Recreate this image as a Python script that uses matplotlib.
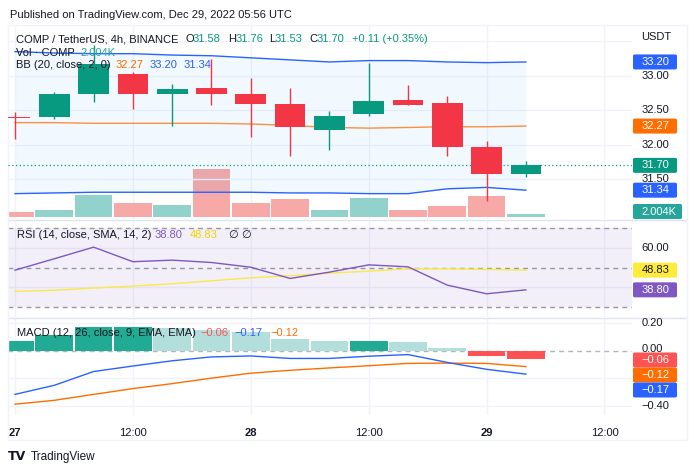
import matplotlib
matplotlib.use("Agg")
import matplotlib.pyplot as plt
from matplotlib.patches import FancyBboxPatch
import numpy as np

plt.rcParams['font.family'] = ['Liberation Sans', 'DejaVu Sans']

# ---------------- data ----------------
opens  = [32.40, 32.40, 32.73, 33.02, 32.74, 32.82, 32.74, 32.59, 32.22, 32.45, 32.65, 32.60, 31.96, 31.58]
highs  = [32.48, 32.76, 33.45, 33.06, 32.88, 33.24, 32.97, 32.82, 32.49, 33.19, 32.86, 32.71, 32.06, 31.76]
lows   = [32.08, 32.37, 32.62, 32.52, 32.27, 32.57, 32.11, 31.83, 31.92, 32.41, 32.57, 31.84, 31.18, 31.53]
closes = [32.38, 32.74, 33.17, 32.74, 32.81, 32.74, 32.59, 32.25, 32.42, 32.64, 32.58, 31.97, 31.58, 31.70]
volume_k = [2.9, 4.1, 12.4, 7.8, 6.8, 26.9, 8.3, 10.0, 4.4, 10.6, 3.9, 6.5, 12.2, 2.004]

bb_upper = [33.35, 33.33, 33.32, 33.32, 33.30, 33.29, 33.26, 33.23, 33.20, 33.22, 33.22, 33.20, 33.19, 33.20]
bb_basis = [32.32, 32.32, 32.31, 32.31, 32.31, 32.31, 32.30, 32.28, 32.25, 32.24, 32.25, 32.26, 32.26, 32.27]
bb_lower = [31.29, 31.30, 31.31, 31.31, 31.31, 31.31, 31.31, 31.30, 31.30, 31.29, 31.29, 31.36, 31.38, 31.34]

rsi     = [48.8, 54.6, 60.5, 53.1, 53.9, 52.7, 50.3, 44.6, 47.8, 51.5, 50.5, 41.2, 36.8, 38.80]
rsi_sma = [38.0, 38.6, 39.7, 40.7, 41.9, 43.4, 44.9, 46.0, 47.3, 48.3, 49.5, 49.5, 49.2, 48.83]

macd_hist   = [0.069, 0.117, 0.169, 0.172, 0.165, 0.152, 0.133, 0.088, 0.072, 0.074, 0.065, 0.022, -0.038, -0.06]
macd_line   = [-0.317, -0.251, -0.151, -0.111, -0.073, -0.045, -0.038, -0.056, -0.056, -0.040, -0.028, -0.085, -0.135, -0.17]
macd_signal = [-0.388, -0.360, -0.317, -0.275, -0.239, -0.199, -0.163, -0.142, -0.125, -0.109, -0.092, -0.090, -0.092, -0.115]

time_tick_pos = [0, 3, 6, 9, 12, 15]
time_tick_labels = ["27", "12:00", "28", "12:00", "29", "12:00"]
time_tick_bold = [True, False, True, False, True, False]

price_ticks = [33.00, 32.50, 32.00, 31.50]
rsi_ticks = [60.00]
macd_ticks = [0.20, 0.00, -0.40]

# ---------------- colors ----------------
UP = "#089981"
DN = "#f23645"
VOL_UP = "#92d2cc"
VOL_DN = "#f7a9a7"
BLUE = "#2962ff"
ORANGE = "#ff6d00"
PURPLE = "#7e57c2"
YELLOW = "#fbe84a"
GRID = "#f0f3fa"
BORDER = "#e0e3eb"
TXT = "#131722"

W_PX, H_PX = 696, 472
fig = plt.figure(figsize=(6.96, 4.72), dpi=100)
fig.patch.set_facecolor("white")

L_PX, R_PX = 8, 632
def rect(top, bottom):
    return [L_PX / W_PX, 1 - bottom / H_PX, (R_PX - L_PX) / W_PX, (bottom - top) / H_PX]

ax_vol = fig.add_axes(rect(25, 219))
ax = fig.add_axes(rect(25, 219), sharex=ax_vol)
ax_rsi = fig.add_axes(rect(220, 317), sharex=ax_vol)
ax_macd = fig.add_axes(rect(318, 415), sharex=ax_vol)

n = len(closes)
x = np.arange(n)
xlim = (-0.178, 15.70)

for a in (ax_vol, ax, ax_rsi, ax_macd):
    a.set_xlim(*xlim)
    for s in a.spines.values():
        s.set_visible(False)
    a.tick_params(left=False, right=False, bottom=False, top=False,
                  labelleft=False, labelbottom=False)
    a.set_yticks([])

ax.patch.set_visible(False)
ax.set_zorder(2)
ax_vol.set_zorder(1)

# ---------------- main pane ----------------
ax.set_ylim(30.922, 33.736)
ax_vol.set_ylim(-0.9, 107.5)

for t in time_tick_pos:
    ax_vol.axvline(t, color=GRID, lw=1, zorder=0)
    ax_rsi.axvline(t, color=GRID, lw=1, zorder=0)
    ax_macd.axvline(t, color=GRID, lw=1, zorder=0)
for p in price_ticks + [33.5]:
    ax.axhline(p, color=GRID, lw=1, zorder=0)

vol_colors = [VOL_UP if c >= o else VOL_DN for o, c in zip(opens, closes)]
ax_vol.bar(x, volume_k, width=0.96, color=vol_colors, zorder=2)

ax.fill_between(x, bb_lower, bb_upper, color="#2196f3", alpha=0.06, lw=0, zorder=1)
ax.plot(x, bb_upper, color=BLUE, lw=1, zorder=3)
ax.plot(x, bb_lower, color=BLUE, lw=1, zorder=3)
ax.plot(x, bb_basis, color=ORANGE, lw=1, alpha=0.75, zorder=3)

ax.axhline(closes[-1], color=UP, lw=0.9, ls=(0, (1, 2)), zorder=2)

for i in range(n):
    col = UP if closes[i] >= opens[i] else DN
    ax.vlines(x[i], lows[i], highs[i], color=col, lw=1, zorder=4)
    b = min(opens[i], closes[i])
    h = max(abs(closes[i] - opens[i]), 0.025)
    ax.bar(x[i], h, bottom=b, width=0.78, color=col, zorder=5)

def textrow(y_px, items, size=8):
    for txt, col, xp in items:
        fig.text(xp / W_PX, 1 - y_px / H_PX, txt, color=col, fontsize=size,
                 va="center", ha="left", zorder=10)

textrow(39, [("COMP / TetherUS, 4h, BINANCE", TXT, 16.5),
             ("O", TXT, 185), ("31.58", UP, 193),
             ("H", TXT, 228), ("31.76", UP, 235.5),
             ("L", TXT, 269.5), ("31.53", UP, 274.5),
             ("C", TXT, 309), ("31.70", UP, 317),
             ("+0.11 (+0.35%)", UP, 352)])
textrow(52.5, [("Vol · COMP", TXT, 16.5), ("2.004K", "#26a69a", 80)])
textrow(65, [("BB (20, close, 2, 0)", TXT, 16.5), ("32.27", ORANGE, 116),
             ("33.20", BLUE, 150), ("31.34", BLUE, 184)])

# ---------------- RSI pane ----------------
ax_rsi.set_ylim(25.0, 74.3)
ax_rsi.axhspan(30, 70, color=PURPLE, alpha=0.09, lw=0, zorder=0)
for g in [60, 40]:
    ax_rsi.axhline(g, color="#e6e1f2", lw=1, zorder=1)
for g in [70, 50, 30]:
    ax_rsi.axhline(g, color="#9598a1", lw=1, ls=(0, (3.5, 3)), zorder=1)
ax_rsi.plot(x, rsi_sma, color=YELLOW, lw=1, zorder=3)
ax_rsi.plot(x, rsi, color=PURPLE, lw=1, zorder=4)
textrow(235, [("RSI (14, close, SMA, 14, 2)", TXT, 17), ("38.80", PURPLE, 155),
              ("48.83", "#f2d400", 190), ("∅", TXT, 228), ("∅", TXT, 241)])

# ---------------- MACD pane ----------------
ax_macd.set_ylim(-0.4666, 0.2375)
for g in [0.2, -0.2, -0.4]:
    ax_macd.axhline(g, color=GRID, lw=1, zorder=0)
ax_macd.axhline(0, color="#b2b5be", lw=1, ls=(0, (3.5, 3)), zorder=1)
hist_cols = []
for i, v in enumerate(macd_hist):
    prev = macd_hist[i - 1] if i > 0 else 0
    if v >= 0:
        hist_cols.append("#22ab94" if v >= prev else "#b2dfdb")
    else:
        hist_cols.append("#ff5252" if v <= prev else "#ffcdd2")
ax_macd.bar(x, macd_hist, width=0.96, color=hist_cols, zorder=2)
ax_macd.plot(x, macd_signal, color=ORANGE, lw=1, zorder=3)
ax_macd.plot(x, macd_line, color=BLUE, lw=1, zorder=4)
textrow(333, [("MACD (12, 26, close, 9, EMA, EMA)", TXT, 17), ("\u22120.06", "#ff5252", 200),
              ("\u22120.17", BLUE, 234), ("\u22120.12", ORANGE, 270)])

# time axis
ax_macd.set_xticks(time_tick_pos)
ax_macd.set_xticklabels(time_tick_labels)
ax_macd.tick_params(axis="x", labelbottom=True, pad=6, labelsize=8, labelcolor=TXT)
for lab, b in zip(ax_macd.get_xticklabels(), time_tick_bold):
    lab.set_fontweight("bold" if b else "normal")

# ---------------- right scale labels ----------------
LAB_X = 641.5 / W_PX
BOX_X0, BOX_X1, BOX_H = 633, 677, 15

def ypx_of(axis, val):
    yf = fig.transFigure.inverted().transform(axis.transData.transform((0, val)))[1]
    return (1 - yf) * H_PX

def ylab(axis, val, txt):
    fig.text(LAB_X, 1 - ypx_of(axis, val) / H_PX, txt, fontsize=8, color=TXT,
             va="center", ha="left", zorder=20)

def boxlab_px(y_px, txt, box, tcol="white", x1=BOX_X1):
    fig.add_artist(FancyBboxPatch((BOX_X0 / W_PX, 1 - (y_px + BOX_H / 2) / H_PX),
                                  (x1 - BOX_X0) / W_PX, BOX_H / H_PX,
                                  boxstyle="round,pad=0,rounding_size=0.003",
                                  fc=box, ec="none", transform=fig.transFigure, zorder=19))
    fig.text(LAB_X, 1 - y_px / H_PX, txt, fontsize=8, color=tcol, va="center", ha="left",
             zorder=20)

def boxlab(axis, val, txt, box, tcol="white"):
    boxlab_px(ypx_of(axis, val), txt, box, tcol)

fig.text(LAB_X, 1 - 37 / H_PX, "USDT", fontsize=8, color=TXT, va="center", ha="left")
for p in price_ticks:
    ylab(ax, p, f"{p:.2f}")
boxlab(ax, bb_upper[-1], f"{bb_upper[-1]:.2f}", BLUE)
boxlab(ax, bb_basis[-1], f"{bb_basis[-1]:.2f}", ORANGE)
boxlab(ax, closes[-1], f"{closes[-1]:.2f}", UP)
boxlab(ax, bb_lower[-1], f"{bb_lower[-1]:.2f}", BLUE)
boxlab_px(211.5, f"{volume_k[-1]:.3f}K", "#26a69a", x1=682)

for p in rsi_ticks:
    ylab(ax_rsi, p, f"{p:.2f}")
boxlab(ax_rsi, rsi_sma[-1], f"{rsi_sma[-1]:.2f}", "#ffeb3b", TXT)
boxlab(ax_rsi, rsi[-1], f"{rsi[-1]:.2f}", PURPLE)

for p in macd_ticks:
    if p == 0:
        continue
    ylab(ax_macd, p, f"{p:.2f}".replace("-", "\u2212"))
# the 0.00 label sits just above the first box (partially hidden in the original)
fig.text(LAB_X, 1 - 349 / H_PX, "0.00", fontsize=8, color=TXT, va="center", ha="left", zorder=15)
boxlab_px(360, f"{macd_hist[-1]:.2f}".replace("-", "\u2212"), "#ff5252")
boxlab_px(375, f"{macd_signal[-1]:.2f}".replace("-", "\u2212"), ORANGE)
boxlab_px(390, f"{macd_line[-1]:.2f}".replace("-", "\u2212"), BLUE)

# ---------------- frame lines ----------------
def hline_px(y, x0, x1, col=BORDER, lw=1):
    fig.add_artist(plt.Line2D([x0 / W_PX, x1 / W_PX], [1 - y / H_PX, 1 - y / H_PX],
                              color=col, lw=lw, transform=fig.transFigure))
def vline_px(x_, y0, y1, col=BORDER, lw=1):
    fig.add_artist(plt.Line2D([x_ / W_PX, x_ / W_PX], [1 - y0 / H_PX, 1 - y1 / H_PX],
                              color=col, lw=lw, transform=fig.transFigure))

hline_px(25, 8, 687, GRID)
hline_px(219.5, 8, 687)
hline_px(317.5, 8, 687)
hline_px(440, 8, 687, GRID)
vline_px(8, 25, 440, GRID)
vline_px(687, 25, 440, GRID)

# header / footer
fig.text(10 / W_PX, 1 - 15 / H_PX, "Published on TradingView.com, Dec 29, 2022 05:56 UTC",
         fontsize=8, color=TXT, va="center", ha="left")
fig.text(8 / W_PX, 1 - 457 / H_PX, "TV", fontsize=9, fontweight="heavy", color=TXT,
         va="center", ha="left", family="DejaVu Sans")
fig.text(31 / W_PX, 1 - 457 / H_PX, "TradingView", fontsize=8.5, color=TXT,
         va="center", ha="left")

fig.savefig("out.png", dpi=100, facecolor="white")
